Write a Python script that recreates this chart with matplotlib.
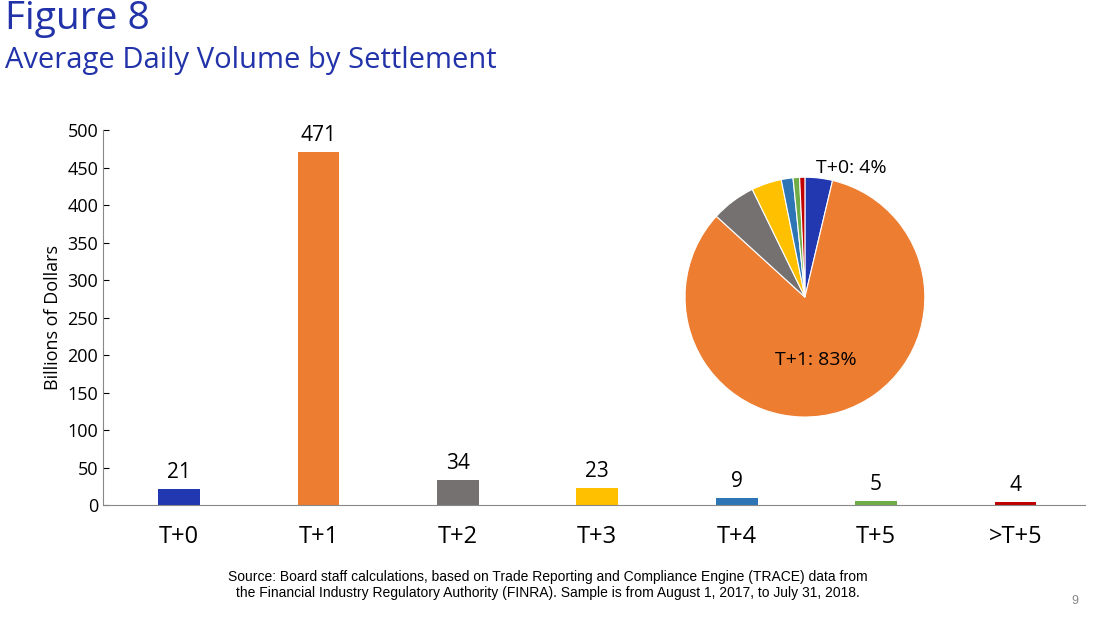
import matplotlib
matplotlib.use("Agg")
import matplotlib.pyplot as plt

cats = ["T+0", "T+1", "T+2", "T+3", "T+4", "T+5", ">T+5"]
vals = [21, 471, 34, 23, 9, 5, 4]
colors = ["#2138B0", "#ED7D31", "#767171", "#FFC000", "#2E75B6", "#70AD47", "#C00000"]
yticks = [0, 50, 100, 150, 200, 250, 300, 350, 400, 450, 500]

plt.rcParams['font.family'] = ['Open Sans', 'DejaVu Sans']
fig = plt.figure(figsize=(10.95, 6.19), dpi=100)
fig.text(0.005, 1.0, "Figure 8", fontsize=28, color="#2233AA", va="top")
fig.text(0.005, 0.925, "Average Daily Volume by Settlement", fontsize=21, color="#2233AA", va="top")

ax = fig.add_axes([0.094, 0.184, 0.897, 0.606])
x = range(len(cats))
ax.bar(x, vals, width=0.3, color=colors)
for i, v in enumerate(vals):
    ax.text(i, v + 8, str(v), ha="center", va="bottom", fontsize=15)
ax.set_xlim(-0.546, 6.5)
ax.set_ylim(0, 500)
ax.set_yticks(yticks)
ax.set_xticks(list(x))
ax.set_xticklabels(cats, fontsize=17)
ax.tick_params(axis='x', length=0, pad=14)
ax.tick_params(axis='y', labelsize=13, direction='in', length=4)
for s in ["top", "right"]:
    ax.spines[s].set_visible(False)
ax.spines["left"].set_color("#888888")
ax.spines["bottom"].set_color("#888888")
ax.set_ylabel("Billions of Dollars", fontsize=13)

pax = fig.add_axes([0.6256, 0.326, 0.219, 0.388])
pax.pie(vals, colors=colors, startangle=90, counterclock=False, radius=1.25,
        wedgeprops=dict(edgecolor="white", linewidth=0.8))
pax.set_xlim(-1.25, 1.25)
pax.set_ylim(-1.25, 1.25)
pax.set_aspect("equal")
tot = sum(vals)
fig.text(0.745, 0.72, f"T+0: {round(100*vals[0]/tot)}%", fontsize=14)
fig.text(0.708, 0.41, f"T+1: {round(100*vals[1]/tot)}%", fontsize=14)

fig.text(0.5, 0.03, "Source: Board staff calculations, based on Trade Reporting and Compliance Engine (TRACE) data from\n"
         "the Financial Industry Regulatory Authority (FINRA). Sample is from August 1, 2017, to July 31, 2018.",
         ha="center", va="bottom", fontsize=10, family=["Liberation Sans"])
fig.text(0.985, 0.02, "9", fontsize=9, color="#888888", ha="right", va="bottom", family=["Liberation Sans"])
fig.savefig("out.png")
